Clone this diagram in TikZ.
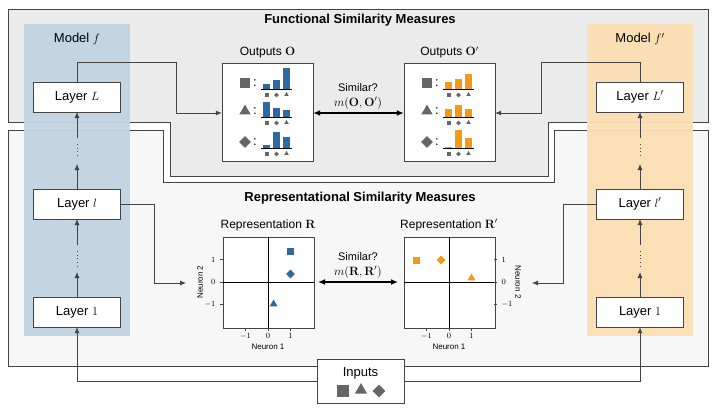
\documentclass[tikz,border=0pt]{standalone}
\usepackage{amsmath}
\usepackage[no-math]{fontspec}
\setmainfont{Liberation Sans}
\usetikzlibrary{shapes.geometric,arrows.meta}
\definecolor{cblue}{HTML}{2F6A9E}
\definecolor{corange}{HTML}{F39A12}
\definecolor{colb}{HTML}{C1D3E2}
\definecolor{colo}{HTML}{FBDEB4}
\definecolor{mk}{HTML}{666666}
\definecolor{ln}{HTML}{444444}
\tikzset{
 layer/.style={draw=ln,fill=white,minimum width=87pt,minimum height=30pt,font=\fontsize{13}{14}\selectfont,inner sep=0},
 con/.style={draw=ln,line width=0.8pt,-{Latex[length=6pt,width=5pt]}},
 dcon/.style={draw=black,line width=1.4pt,{Latex[length=7pt,width=6pt]}-{Latex[length=7pt,width=6pt]}},
 sqm/.style={fill=#1,inner sep=0,minimum size=7pt,rectangle},
 trm/.style={fill=#1,inner sep=0,minimum size=9pt,regular polygon,regular polygon sides=3},
 dim/.style={fill=#1,inner sep=0,minimum size=9pt,diamond},
 ttl/.style={font=\fontsize{13}{14}\selectfont\bfseries},
 sml/.style={font=\fontsize{8}{9}\selectfont},
}
\newcommand{\mybars}[6]{%
 \fill[#6] (#1,#2) rectangle ++(7,-#3);
 \fill[#6] (#1+10,#2) rectangle ++(7,-#4);
 \fill[#6] (#1+20,#2) rectangle ++(7,-#5);
 \draw[black,line width=0.8pt] (#1-2,#2) -- (#1+29,#2);
 \node[sqm=mk,minimum size=4pt] at (#1+3.5,#2+6) {};
 \node[dim=mk,minimum size=5pt] at (#1+13.5,#2+6) {};
 \node[trm=mk,minimum size=5pt] at (#1+23.5,#2+5.5) {};
}
\newcommand{\myrow}[4]{%
 \node[#3=mk,minimum size=#4] at (#1,#2-6) {};
 \node[font=\fontsize{13}{14}\selectfont] at (#1+10,#2-6) {:};
}
\begin{document}
\begin{tikzpicture}[x=1pt,y=-1pt]
\useasboundingbox (0,0) rectangle (720,408);
% panels
\draw[ln,fill=black!8] (8,9) -- (708,9) -- (708,122) -- (548,122) -- (548,176) -- (170,176) -- (170,122) -- (8,122) -- cycle;
\draw[ln,fill=black!3] (8,130) -- (163,130) -- (163,182) -- (554,182) -- (554,130) -- (708,130) -- (708,366) -- (8,366) -- cycle;
\node[ttl] at (360,20) {Functional Similarity Measures};
\node[ttl] at (360,198) {Representational Similarity Measures};
% model columns
\fill[colb,opacity=0.95] (24,24) rectangle (130,336);
\fill[colo,opacity=0.95] (587,24) rectangle (693,336);
\node[font=\fontsize{13}{14}\selectfont] at (77,39) {Model $f$};
\node[font=\fontsize{13}{14}\selectfont] at (640,39) {Model $f'$};
\node[layer] (L) at (77,97) {Layer $L$};
\node[layer] (l) at (77,204) {Layer $l$};
\node[layer] (one) at (77,312) {Layer $1$};
\node[layer] (L2) at (640,97) {Layer $L'$};
\node[layer] (l2) at (640,204) {Layer $l'$};
\node[layer] (one2) at (640,312) {Layer $1$};
\foreach \x in {77,640}{
 \foreach \yt/\yb in {112/189,219/297}{
  \coordinate (p1) at (\x,\yb-25);
  \coordinate (p2) at (\x,\yt+26);
  \draw[con] (\x,\yb) -- (p1);
  \draw[con] (p2) -- (\x,\yt);
  \draw[ln,line width=0.7pt,dash pattern=on 0.7pt off 3pt] (\x,\yt+32) -- (\x,\yb-31);
 }
}
% outputs
\node[draw=ln,fill=white,minimum width=91pt,minimum height=98pt,inner sep=0] (O) at (267.5,112) {};
\node[draw=ln,fill=white,minimum width=91pt,minimum height=98pt,inner sep=0] (O2) at (449.5,112) {};
\node[font=\fontsize{12}{13}\selectfont] at (O.north) [above=1pt] {Outputs $\mathbf{O}$};
\node[font=\fontsize{12}{13}\selectfont] at (O2.north) [above=1pt] {Outputs $\mathbf{O}'$};
\myrow{245}{89}{sqm}{10pt}
\myrow{245}{117}{trm}{13pt}
\myrow{245}{148}{dim}{12pt}
\mybars{263}{89}{5}{9}{21}{cblue}
\mybars{263}{117}{15}{9}{7}{cblue}
\mybars{263}{148}{3}{16}{11}{cblue}
\myrow{427}{89}{sqm}{10pt}
\myrow{427}{117}{trm}{13pt}
\myrow{427}{148}{dim}{12pt}
\mybars{445}{89}{7}{10}{15}{corange}
\mybars{445}{117}{8}{12}{8}{corange}
\mybars{445}{148}{1}{18}{10}{corange}
\draw[dcon] (O.east |- 0,113) -- (O2.west |- 0,113);
\node[font=\fontsize{11}{12}\selectfont] at (358,88) {Similar?};
\node[font=\fontsize{12}{13}\selectfont] at (358,103) {$m(\mathbf{O},\mathbf{O}')$};
\draw[con] (L.north) -- (77,62) -- (176,62) -- (176,113) -- (O.west |- 0,113);
\draw[con] (L2.north) -- (640,62) -- (541,62) -- (541,113) -- (O2.east |- 0,113);
% representation plots
\foreach \ox in {268,449}{
 \begin{scope}[shift={(\ox,282)}]
  \draw[ln,fill=white] (-45,-45) rectangle (46,46);
  \draw[black,line width=0.8pt] (-45,0) -- (46,0) (0,-45) -- (0,46);
  \foreach \t/\lab in {-22.5/$-1$,0/$0$,22.5/$1$}{
   \draw[ln] (\t,46) -- (\t,49);
   \node[sml,anchor=north] at (\t,48) {\lab};
  }
  \node[sml] at (0,65) {Neuron 1};
 \end{scope}
}
\foreach \t/\lab in {-22.5/$1$,0/$0$,22.5/$-1$}{
 \draw[ln] (223,282+\t) -- (220,282+\t);
 \node[sml,anchor=east] at (219,282+\t) {\lab};
 \draw[ln] (494,282+\t) -- (497,282+\t);
 \node[sml,anchor=west] at (498,282+\t) {\lab};
}
\node[sml,rotate=90] at (200,282) {Neuron 2};
\node[sml,rotate=-90] at (518,282) {Neuron 2};
\node[font=\fontsize{12}{13}\selectfont] at (268,225) {Representation $\mathbf{R}$};
\node[font=\fontsize{12}{13}\selectfont] at (449,225) {Representation $\mathbf{R}'$};
\node[sqm=cblue] at (290.5,251) {};
\node[dim=cblue] at (290.5,274) {};
\node[trm=cblue] at (273.6,304) {};
\node[sqm=corange] at (416,260) {};
\node[dim=corange] at (441,260) {};
\node[trm=corange] at (471.5,278) {};
\coordinate (Ra) at (318,282);
\coordinate (Rb) at (398,282);
\draw[dcon] (Ra) -- (Rb);
\node[font=\fontsize{11}{12}\selectfont] at (358,257) {Similar?};
\node[font=\fontsize{12}{13}\selectfont] at (358,272) {$m(\mathbf{R},\mathbf{R}')$};
\coordinate (ra) at (186,283);
\coordinate (rb) at (532,283);
\draw[con] (l.east) -- (154,204) -- (154,283) -- (ra);
\draw[con] (l2.west) -- (563,204) -- (563,283) -- (rb);
% inputs
\node[draw=ln,fill=white,minimum width=87pt,minimum height=44pt,inner sep=0] (In) at (360.5,381) {};
\node[font=\fontsize{13}{14}\selectfont] at (360.5,373) {Inputs};
\node[sqm=mk,minimum size=12pt] at (343,391) {};
\node[trm=mk,minimum size=14pt] at (361,390) {};
\node[dim=mk,minimum size=13pt] at (379,391) {};
\draw[con] (In.west) -- (77,381) -- (one.south);
\draw[con] (In.east) -- (640,381) -- (one2.south);
\end{tikzpicture}
\end{document}
